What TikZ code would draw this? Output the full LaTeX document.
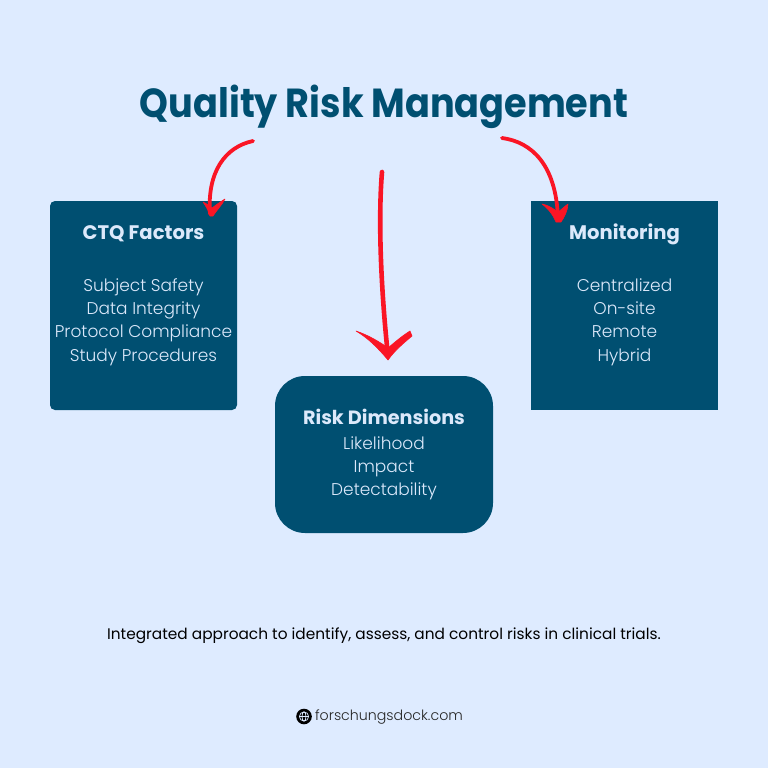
\documentclass[tikz,border=0pt]{standalone}
\usepackage{fontspec}
\setmainfont{Poppins}
\newfontfamily\lightf{Poppins Light}
\definecolor{pagebg}{HTML}{DEEBFF}
\definecolor{navy}{HTML}{004F71}
\definecolor{redpen}{HTML}{FA1525}
\definecolor{paletxt}{HTML}{DCE9FB}
\begin{document}
\begin{tikzpicture}[x=1pt,y=-1pt,
  heading/.style={font=\fontsize{19.6}{23}\selectfont\bfseries,text=paletxt,anchor=center,inner sep=0pt},
  bodytxt/.style={font=\fontsize{17}{23.2}\selectfont\lightf,text=paletxt,align=center,anchor=center,inner sep=0pt},
  shaft/.style={draw=redpen,line width=3.8pt,line cap=round,line join=round},
  headfill/.style={fill=redpen,draw=redpen,line width=.6pt,line join=round}]
\useasboundingbox (0,0) rectangle (768,768);
\fill[pagebg] (0,0) rectangle (768,768);
\node[inner sep=0pt,text=navy] (title) at (384,107) {\scalebox{.94}[1.04]{\fontsize{39}{46}\selectfont\bfseries Quality Risk Management}};
% boxes
\path[fill=navy,rounded corners=5pt] (50,201) rectangle (237,410);
\node[inner sep=0pt,minimum width=187pt,minimum height=209pt] (ctq) at (143.5,305.5) {};
\path[fill=navy,rounded corners=30pt] (275,376) rectangle (493,533);
\node[inner sep=0pt,minimum width=218pt,minimum height=157pt] (risk) at (384,454.5) {};
\path[fill=navy] (531,201) rectangle (718,410);
\node[inner sep=0pt,minimum width=187pt,minimum height=209pt] (mon) at (624.5,305.5) {};
% texts
\node[heading] (ctqh) at (143.5,233.5) {CTQ Factors};
\node[bodytxt] (ctqb) at (143.5,322) {Subject Safety\\Data Integrity\\Protocol Compliance\\Study Procedures};
\node[heading] (monh) at (624.5,234.5) {Monitoring};
\node[bodytxt] (monb) at (624.5,322) {Centralized\\On-site\\Remote\\Hybrid};
\node[heading,font=\fontsize{19.2}{23}\selectfont\bfseries] (riskh) at (384,417) {Risk Dimensions};
\node[bodytxt] (riskb) at (384,468.5) {Likelihood\\Impact\\Detectability};
\node[inner sep=0pt,text=black,font=\fontsize{15.35}{18}\selectfont] (foot) at (384,636) {Integrated approach to identify, assess, and control risks in clinical trials.};
\node[inner sep=0pt,text=black!85,font=\fontsize{14.2}{18}\selectfont\lightf] (site) at (389,717.5) {forschungsdock.com};
% globe
\fill[black] (304,716.5) circle (7.8pt);
\begin{scope}[draw=pagebg,line width=.7pt]
\draw (304,716.5) circle (4.6pt);
\draw (304,716.5) ellipse (2pt and 4.6pt);
\draw (299.4,716.5) -- (308.6,716.5);
\end{scope}
% arrows
\coordinate (a1s) at (253,141);
\coordinate (a1e) at (210,214);
\draw[shaft] (a1s) .. controls (225,147) and (207,172) .. (a1e);
\fill[headfill] (210,216) .. controls (208,209) and (205,205) .. (203,202) .. controls (207,204) and (210,206) .. (212,208) .. controls (216,205) and (220,202) .. (225,199) .. controls (222,205) and (216,211) .. (213,216) -- cycle;
\coordinate (a2s) at (382,172);
\coordinate (a2e) at (388,356);
\draw[shaft,line width=4.6pt] (a2s) .. controls (378,220) and (381,290) .. (a2e);
\fill[headfill] (388,360) .. controls (378,348) and (368,338) .. (356,331) .. controls (368,335) and (380,342) .. (388,348) .. controls (395,342) and (402,336) .. (410,331) -- (412,336) .. controls (405,342) and (395,350) .. (388,360) -- cycle;
\coordinate (a3s) at (502,138);
\coordinate (a3e) at (558,218);
\draw[shaft] (a3s) .. controls (532,142) and (556,165) .. (a3e);
\fill[headfill] (556,222) -- (553,216) .. controls (550,211) and (546,207) .. (542,204) .. controls (548,205) and (554,209) .. (558,212) .. controls (561,210) and (565,206) .. (568,204) .. controls (568,210) and (564,218) .. (561,222) -- cycle;
\end{tikzpicture}
\end{document}
